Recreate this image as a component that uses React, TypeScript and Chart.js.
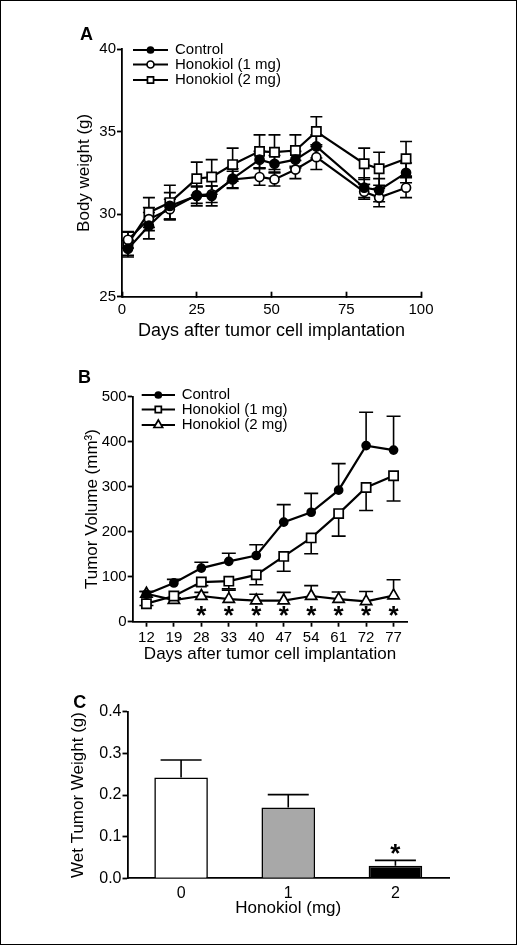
import React, { useEffect, useRef } from 'react';
import { Chart, registerables } from 'chart.js';

Chart.register(...registerables);

const FONT = '"Liberation Sans", Arial, Helvetica, sans-serif';
Chart.defaults.font.family = FONT;
Chart.defaults.color = '#000';

// ---------- Panel A: body weight ----------
const daysA = [2, 9, 16, 25, 30, 37, 46, 51, 58, 65, 81, 86, 95];
const controlA = [27.9, 29.3, 30.5, 31.1, 31.1, 32.15, 33.3, 33.05, 33.3, 34.1, 31.6, 31.45, 32.5];
const hk1A = [28.45, 29.7, 30.3, 31.15, 31.2, 32.1, 32.25, 32.1, 32.7, 33.45, 31.35, 31.0, 31.6];
const hk2A = [28.2, 30.1, 30.7, 32.15, 32.25, 33.0, 33.8, 33.75, 33.85, 35.0, 33.05, 32.75, 33.35];
const errControlA = [0.5, 0.8, 0.8, 0.6, 0.6, 0.6, 0.5, 0.5, 0.5, 0.7, 0.6, 0.7, 0.6];
const errHk1A = [0.5, 0.7, 0.6, 0.5, 0.5, 0.5, 0.5, 0.4, 0.55, 0.75, 0.45, 0.55, 0.6];
const errHk2A = [0.7, 0.9, 1.05, 1.0, 1.05, 1.0, 1.0, 1.05, 0.95, 0.9, 0.95, 1.0, 1.05];
const legendA = ['Control', 'Honokiol (1 mg)', 'Honokiol (2 mg)'];

// ---------- Panel B: tumor volume ----------
const daysB = ['12', '19', '28', '33', '40', '47', '54', '61', '72', '77'];
const controlB = [61, 86, 119, 134, 147, 221, 243, 292, 391, 381];
const errControlB = [6, 8, 13, 18, 24, 39, 42, 59, 74, 75];
const hk1B = [40, 57, 88, 90, 104, 145, 186, 240, 298, 324];
const errHk1B = [4, 5, 8, 17, 22, 33, 35, 50, 51, 56];
const hk2B = [62, 48, 57, 50, 47, 47, 57, 50, 45, 58];
const errHk2B = [5, 5, 8, 20, 14, 18, 23, 16, 22, 35];
const sigB = [false, false, true, true, true, true, true, true, true, true];
const legendB = ['Control', 'Honokiol (1 mg)', 'Honokiol (2 mg)'];

// ---------- Panel C: wet tumor weight ----------
const doseC = ['0', '1', '2'];
const weightC = [0.242, 0.17, 0.03];
const errC = [0.042, 0.031, 0.013];
const sigC = [false, false, true];
const colorsC = ['#ffffff', '#a8a8a8', '#000000'];

// ---------- helpers ----------
function drawMarker(ctx: any, style: string, x: number, y: number, r: number, fill: string, stroke: string, lw: number) {
  ctx.save();
  ctx.fillStyle = fill;
  ctx.strokeStyle = stroke;
  ctx.lineWidth = lw;
  ctx.beginPath();
  if (style === 'rect') {
    const s = Math.SQRT1_2 * r;
    ctx.rect(x - s, y - s, 2 * s, 2 * s);
  } else if (style === 'triangle') {
    ctx.moveTo(x, y - r);
    ctx.lineTo(x + 0.866 * r, y + 0.5 * r);
    ctx.lineTo(x - 0.866 * r, y + 0.5 * r);
    ctx.closePath();
  } else {
    ctx.arc(x, y, r, 0, Math.PI * 2);
  }
  ctx.fill();
  ctx.stroke();
  ctx.restore();
}

function errorBarPlugin(behind: boolean, capHalf: number, lineWidth: number) {
  const draw = (chart: any) => {
    const ctx = chart.ctx;
    ctx.save();
    ctx.strokeStyle = '#000';
    ctx.lineWidth = lineWidth;
    chart.data.datasets.forEach((ds: any, di: number) => {
      const errs = ds.errors;
      if (!errs) return;
      const meta = chart.getDatasetMeta(di);
      const yScale = chart.scales[meta.yAxisID];
      meta.data.forEach((el: any, i: number) => {
        const p = meta.controller.getParsed(i);
        const v = p.y;
        const e = errs[i];
        if (!e) return;
        const x = el.x;
        const yv = yScale.getPixelForValue(v);
        const ends: number[] = [];
        if (ds.errDir !== 'down') ends.push(yScale.getPixelForValue(v + e));
        if (ds.errDir !== 'up') ends.push(yScale.getPixelForValue(v - e));
        ends.forEach((ye) => {
          ctx.beginPath();
          ctx.moveTo(x, yv);
          ctx.lineTo(x, ye);
          ctx.moveTo(x - capHalf, ye);
          ctx.lineTo(x + capHalf, ye);
          ctx.stroke();
        });
      });
    });
    ctx.restore();
  };
  return behind
    ? { id: 'errorBars', beforeDatasetsDraw: draw }
    : { id: 'errorBars', afterDatasetsDraw: draw };
}

function legendPlugin(rows: number[], x0: number, x1: number, mx: number, textX: number, radii: number[], fontSize: number) {
  return {
    id: 'customLegend',
    afterDraw(chart: any) {
      const ctx = chart.ctx;
      ctx.save();
      chart.data.datasets.forEach((ds: any, i: number) => {
        const y = rows[i];
        ctx.strokeStyle = ds.borderColor;
        ctx.lineWidth = ds.borderWidth;
        ctx.beginPath();
        ctx.moveTo(x0, y);
        ctx.lineTo(x1, y);
        ctx.stroke();
        drawMarker(ctx, ds.pointStyle, mx, y, radii[i], ds.pointBackgroundColor, ds.pointBorderColor, ds.pointBorderWidth);
        ctx.fillStyle = '#000';
        ctx.font = `${fontSize}px ${FONT}`;
        ctx.textAlign = 'left';
        ctx.textBaseline = 'middle';
        ctx.fillText(ds.label, textX, y);
      });
      ctx.restore();
    },
  };
}

function panelLabelPlugin(text: string, x: number, y: number) {
  return {
    id: 'panelLabel',
    afterDraw(chart: any) {
      const ctx = chart.ctx;
      ctx.save();
      ctx.fillStyle = '#000';
      ctx.font = `bold 18px ${FONT}`;
      ctx.textAlign = 'left';
      ctx.textBaseline = 'alphabetic';
      ctx.fillText(text, x, y);
      ctx.restore();
    },
  };
}

function asteriskPlugin(flags: boolean[], getY: (chart: any, i: number) => number, size: number) {
  return {
    id: 'asterisks',
    afterDatasetsDraw(chart: any) {
      const ctx = chart.ctx;
      const xScale = chart.scales.x;
      ctx.save();
      ctx.fillStyle = '#000';
      ctx.font = `bold ${size}px ${FONT}`;
      ctx.textAlign = 'center';
      ctx.textBaseline = 'middle';
      flags.forEach((f, i) => {
        if (!f) return;
        const x = xScale.getPixelForValue(i);
        const y = getY(chart, i);
        ctx.fillText('*', x, y + 0.23 * size);
      });
      ctx.restore();
    },
  };
}

const AXIS_W = 1.8;

function axisCommon(tickSize: number, pad: number, title: string, titleSize: number, showTicks: boolean, tickLength = 5) {
  return {
    ticks: { color: '#000', font: { size: tickSize }, padding: pad },
    grid: {
      display: showTicks,
      drawOnChartArea: false,
      drawTicks: true,
      tickLength,
      tickColor: '#000',
      tickWidth: AXIS_W,
      offset: false,
    },
    border: { display: true, color: '#000', width: AXIS_W },
    title: { display: true, text: title, color: '#000', font: { size: titleSize }, padding: 0 },
  };
}

function lineDs(label: string, data: any[], style: string, fill: string, radius: number, errors: number[], errDir: string) {
  return {
    label,
    data,
    borderColor: '#000',
    borderWidth: 2.2,
    pointStyle: style,
    pointRadius: radius,
    pointBackgroundColor: fill,
    pointBorderColor: '#000',
    pointBorderWidth: 1.7,
    clip: false,
    errors,
    errDir,
  };
}

function configA(): any {
  const pts = (arr: number[]) => daysA.map((d, i) => ({ x: d, y: arr[i] }));
  // x ticks point inward (negative tick length)
  const xAx: any = axisCommon(15, 9.3, 'Days after tumor cell implantation', 18, true, -5);
  const yAx: any = axisCommon(15, 1, 'Body weight (g)', 17, true);
  return {
    type: 'line',
    data: {
      datasets: [
        lineDs(legendA[0], pts(controlA), 'circle', '#000', 4.5, errControlA, 'both'),
        lineDs(legendA[1], pts(hk1A), 'circle', '#fff', 4.5, errHk1A, 'both'),
        lineDs(legendA[2], pts(hk2A), 'rect', '#fff', 6.5, errHk2A, 'both'),
      ],
    },
    options: {
      animation: false,
      responsive: false,
      layout: { padding: { left: 74, right: 99, top: 49, bottom: 3.2 } },
      scales: {
        x: { ...xAx, type: 'linear', min: 0, max: 100, ticks: { ...xAx.ticks, stepSize: 25 }, afterFit: (s: any) => { s.height = 45.1; } },
        y: { ...yAx, type: 'linear', min: 25, max: 40, ticks: { ...yAx.ticks, stepSize: 5 }, afterFit: (s: any) => { s.width = 48; } },
      },
      plugins: { legend: { display: false }, tooltip: { enabled: false } },
    },
    plugins: [
      errorBarPlugin(true, 6, 1.6),
      legendPlugin([50, 64.5, 80], 133, 168, 150.5, 175, [3, 3.5, 4.3], 15),
      panelLabelPlugin('A', 80, 40),
    ],
  };
}

function configB(): any {
  const xAx: any = axisCommon(15, 1.8, 'Days after tumor cell implantation', 17, true);
  const yAx: any = axisCommon(15, 1, 'Tumor Volume (mm³)', 17, true);
  return {
    type: 'line',
    data: {
      labels: daysB,
      datasets: [
        lineDs(legendB[0], controlB, 'circle', '#000', 4, errControlB, 'up'),
        lineDs(legendB[1], hk1B, 'rect', '#fff', 6.5, errHk1B, 'down'),
        lineDs(legendB[2], hk2B, 'triangle', '#fff', 6.5, errHk2B, 'up'),
      ],
    },
    options: {
      animation: false,
      responsive: false,
      layout: { padding: { left: 82, right: 112.7, top: 51.5, bottom: 10.8 } },
      scales: {
        x: { ...xAx, type: 'category', offset: true, afterFit: (s: any) => { s.height = 42.5; } },
        y: { ...yAx, type: 'linear', min: 0, max: 500, ticks: { ...yAx.ticks, stepSize: 100 }, afterFit: (s: any) => { s.width = 50.7; } },
      },
      plugins: { legend: { display: false }, tooltip: { enabled: false } },
    },
    plugins: [
      errorBarPlugin(true, 7, 1.6),
      legendPlugin([50, 64.5, 80], 141.7, 175, 158.3, 181.7, [3, 4.3, 5], 15),
      asteriskPlugin(sigB, (chart: any) => chart.scales.y.getPixelForValue(25), 26),
      panelLabelPlugin('B', 78, 38.3),
    ],
  };
}

function configC(): any {
  const xAx: any = axisCommon(16, 1.1, 'Honokiol (mg)', 17, false);
  const yAx: any = axisCommon(16, 1, 'Wet Tumor Weight (g)', 17, true);
  return {
    type: 'bar',
    data: {
      labels: doseC,
      datasets: [
        {
          label: 'Wet tumor weight',
          data: weightC,
          backgroundColor: colorsC,
          borderColor: '#000',
          borderWidth: 1.6,
          borderSkipped: 'bottom',
          barPercentage: 0.5,
          categoryPercentage: 1,
          errors: errC,
          errDir: 'up',
        },
      ],
    },
    options: {
      animation: false,
      responsive: false,
      layout: { padding: { left: 68.5, right: 71, top: 36.7, bottom: 26.8 } },
      scales: {
        x: { ...xAx, type: 'category', offset: true, afterFit: (s: any) => { s.height = 39.9; } },
        y: {
          ...yAx,
          type: 'linear',
          min: 0,
          max: 0.4,
          ticks: { ...yAx.ticks, stepSize: 0.1, callback: (v: any) => Number(v).toFixed(1) },
          afterFit: (s: any) => { s.width = 59; },
        },
      },
      plugins: { legend: { display: false }, tooltip: { enabled: false } },
    },
    plugins: [
      errorBarPlugin(false, 20.5, 1.6),
      asteriskPlugin(sigC, (chart: any, i: number) => chart.scales.y.getPixelForValue(weightC[i] + errC[i]) - 12, 26),
      panelLabelPlugin('C', 73.3, 32.5),
    ],
  };
}

function ChartCanvas({ makeConfig, top, height }: { makeConfig: () => any; top: number; height: number }) {
  const ref = useRef<HTMLCanvasElement>(null);
  useEffect(() => {
    const chart = new Chart(ref.current as HTMLCanvasElement, makeConfig());
    return () => chart.destroy();
  }, [makeConfig]);
  return (
    <canvas
      ref={ref}
      width={520}
      height={height}
      style={{ position: 'absolute', left: 0, top, width: 520, height, display: 'block' }}
    />
  );
}

export default function App() {
  return (
    <div style={{ position: 'absolute', left: 0, top: 0, width: 520, height: 945, background: '#fff', overflow: 'hidden' }}>
      <div
        style={{
          position: 'absolute',
          left: 0,
          top: 0,
          width: 517,
          height: 945,
          boxSizing: 'border-box',
          border: '1px solid #000',
        }}
      />
      <ChartCanvas makeConfig={configA} top={0} height={345} />
      <ChartCanvas makeConfig={configB} top={345} height={330} />
      <ChartCanvas makeConfig={configC} top={675} height={270} />
    </div>
  );
}
